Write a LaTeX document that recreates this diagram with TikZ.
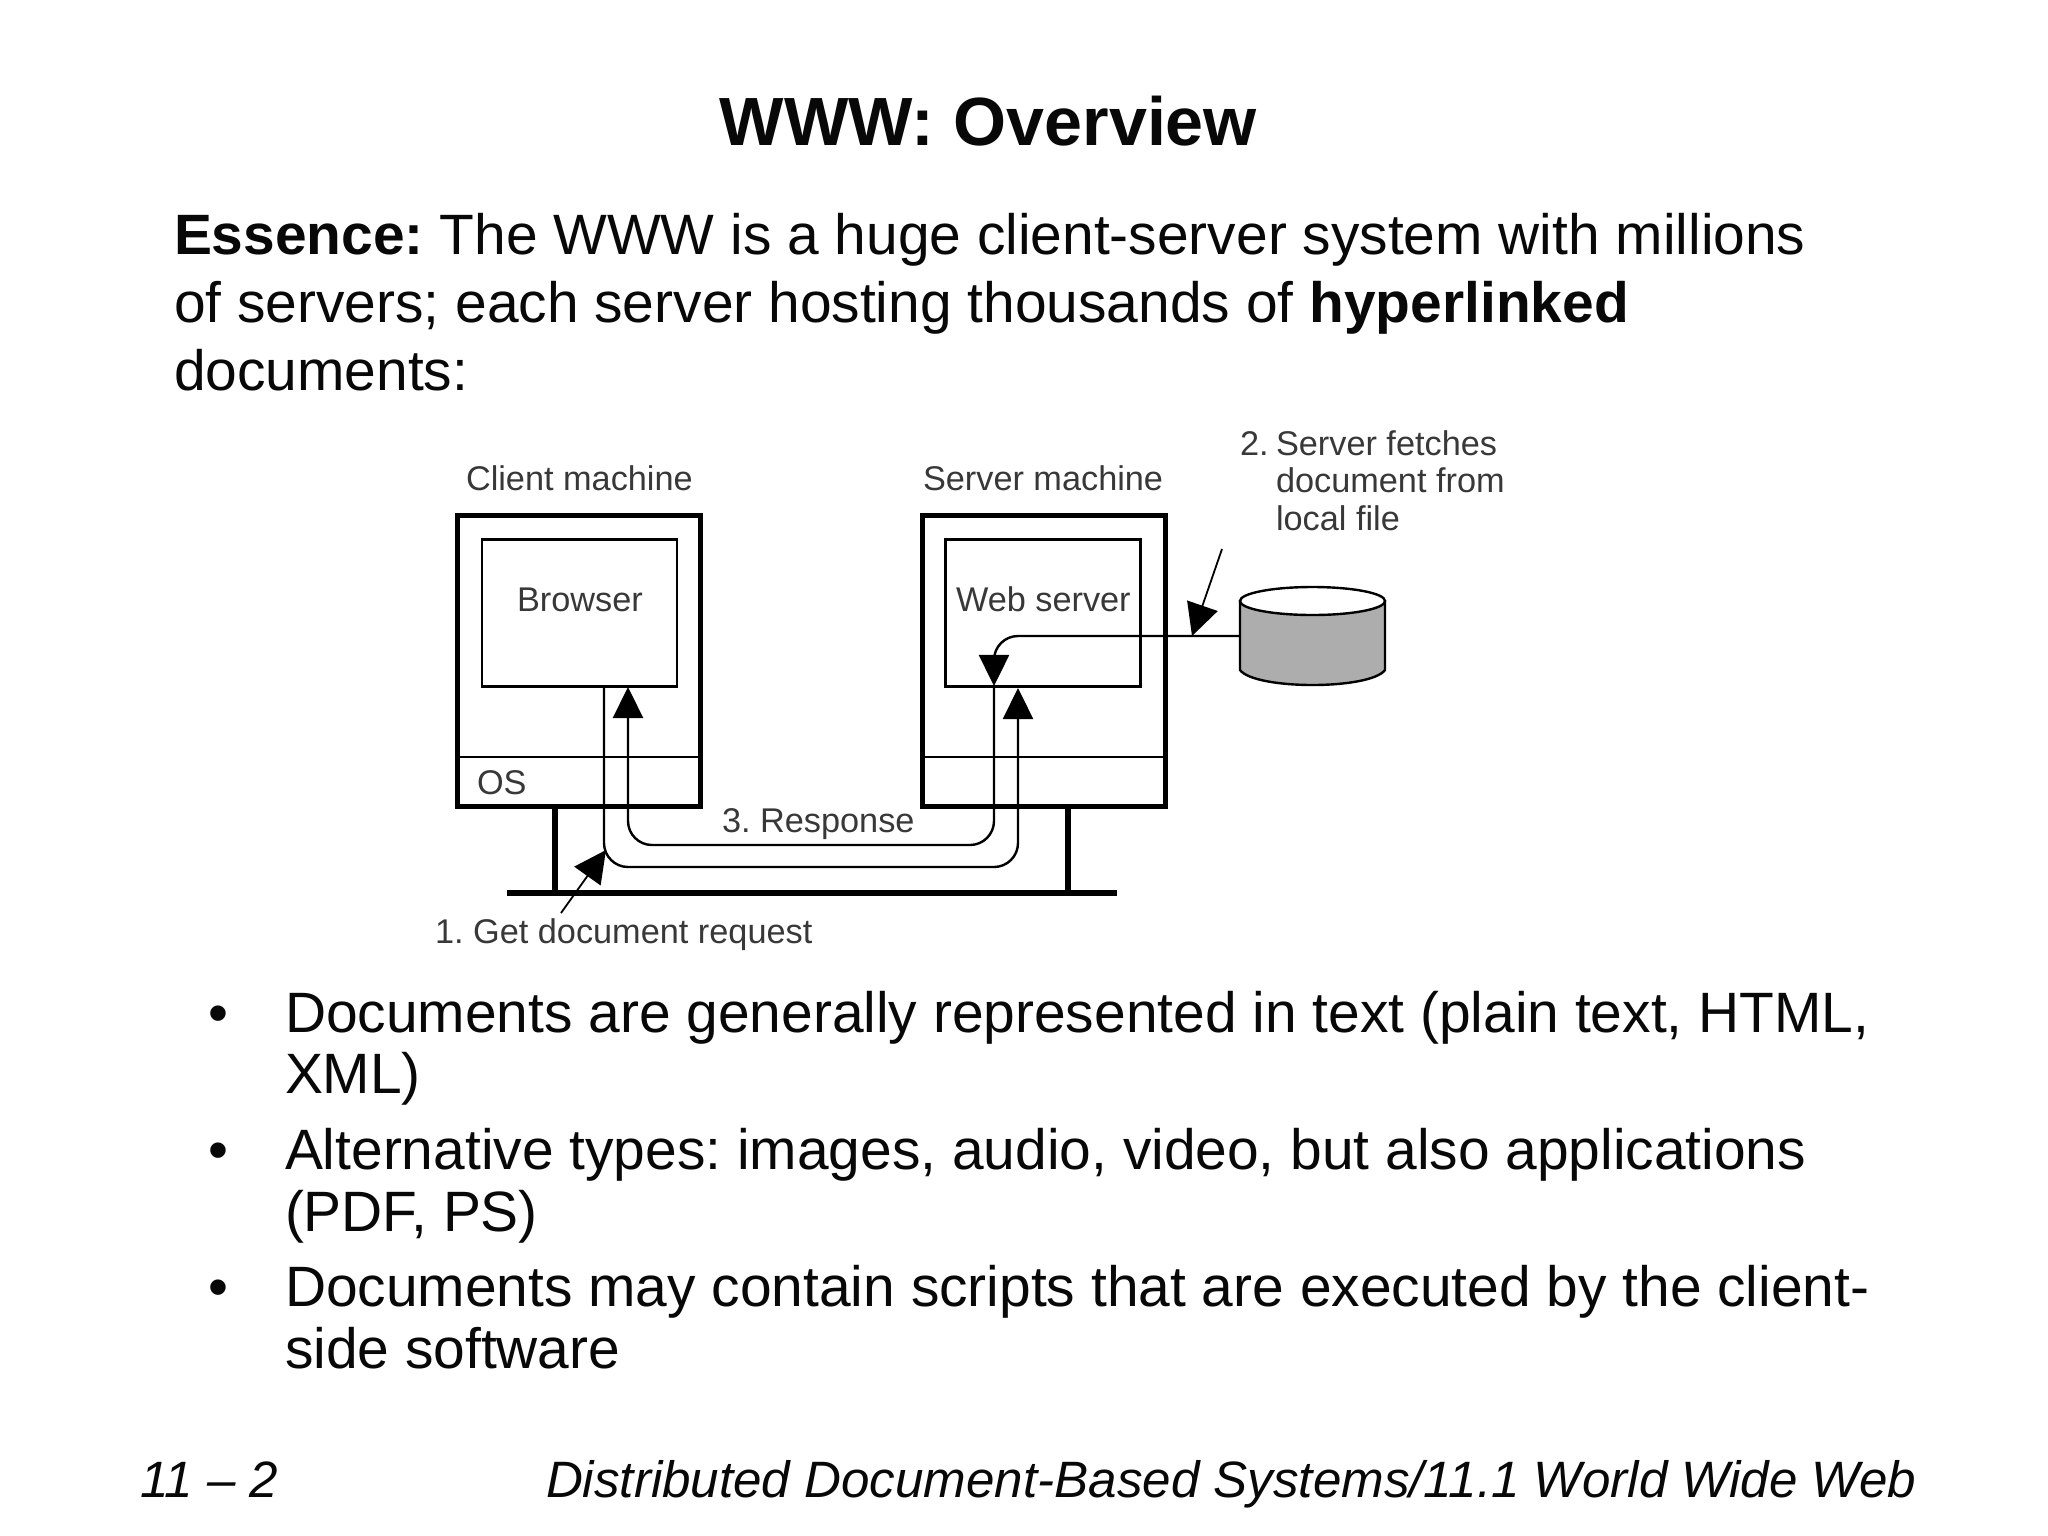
\documentclass[tikz,border=0pt]{standalone}
\usepackage{fontspec}
\setmainfont{Liberation Sans}
\usetikzlibrary{arrows.meta}
\definecolor{ink}{HTML}{080808}
\definecolor{figink}{HTML}{383838}
\definecolor{diskgray}{HTML}{ADADAD}
\tikzset{
  body/.style={anchor=base west,inner sep=0pt,outer sep=0pt,text=ink,font=\fontsize{16.18pt}{16.18pt}\selectfont},
  heading/.style={anchor=base,inner sep=0pt,outer sep=0pt,text=ink,font=\bfseries\fontsize{19.4pt}{19.4pt}\selectfont},
  foot/.style={anchor=base west,inner sep=0pt,outer sep=0pt,text=ink,font=\itshape\fontsize{14.54pt}{14.54pt}\selectfont},
  fig/.style={anchor=base west,inner sep=0pt,outer sep=0pt,text=figink,font=\fontsize{9.75pt}{9.75pt}\selectfont},
  machine/.style={draw=black,line width=0.05cm,fill=white,minimum width=2.42cm,minimum height=2.9cm,inner sep=0pt,outer sep=0pt},
  app/.style={draw=black,line width=0.028cm,minimum width=1.95cm,minimum height=1.47cm,inner sep=0pt,outer sep=0pt},
  wire/.style={draw=black,line width=0.024cm,rounded corners=0.24cm},
  tip/.style={-{Triangle[length=0.31cm,width=0.3cm]}},
  pointer/.style={draw=black,line width=0.018cm,-{Triangle[length=0.32cm,width=0.32cm]}},
  thick line/.style={draw=black,line width=0.06cm},
}
\begin{document}
\frenchspacing
\begin{tikzpicture}[x=0.01cm,y=-0.01cm]
\useasboundingbox (0,0) rectangle (2048,1536);
\fill[white] (0,0) rectangle (2048,1536);
% slide text
\node[heading] (title) at (988.5,145) {WWW: Overview};
\node[body] (l1) at (174,254) {\textbf{Essence:} The WWW is a huge client-server system with millions};
\node[body] (l2) at (174,322) {of servers; each server hosting thousands of \textbf{hyperlinked}};
\node[body] (l3) at (174,390) {documents:};
\node[body] (b1) at (208,1032) {•};
\node[body] (t1) at (285,1032) {Documents are generally represented in text (plain text, HTML,};
\node[body] (t1b) at (285,1093) {XML)};
\node[body] (b2) at (208,1169) {•};
\node[body] (t2) at (285,1169) {Alternative types: images, audio, video, but also applications};
\node[body] (t2b) at (285,1231) {(PDF, PS)};
\node[body] (b3) at (208,1306) {•};
\node[body] (t3) at (285,1306) {Documents may contain scripts that are executed by the client-};
\node[body] (t3b) at (285,1368) {side software};
\node[foot] (f1) at (140,1497) {11 – 2};
\node[foot] (f2) at (546,1497) {Distributed Document-Based Systems/11.1 World Wide Web};
% network
\coordinate (busL) at (507,893);
\coordinate (busR) at (1117,893);
\coordinate (stubC) at (555,893);
\coordinate (stubS) at (1068,893);
\draw[thick line] (busL) -- (busR);
% machines
\node[machine] (client) at (579,661) {};
\node[machine] (server) at (1044,661) {};
\draw[thick line] (client.south -| stubC) -- (stubC);
\draw[thick line] (server.south -| stubS) -- (stubS);
\node[app] (browser) at (579.5,613) {};
\node[app] (web) at (1043,613) {};
\coordinate (osCL) at (459,757); \coordinate (osCR) at (699,757);
\coordinate (osSL) at (924,757); \coordinate (osSR) at (1163,757);
\draw[line width=0.024cm] (osCL) -- (osCR);
\draw[line width=0.024cm] (osSL) -- (osSR);
% disk
\coordinate (dL) at (1240,601);
\coordinate (dR) at (1385,601);
\coordinate (dBL) at (1240,670);
\coordinate (dBR) at (1385,670);
\draw[line width=0.024cm,fill=diskgray] (dL) -- (dBL) .. controls (1255,690) and (1370,690) .. (dBR) -- (dR) -- cycle;
\draw[line width=0.024cm,fill=white] (1312.5,601) ellipse[x radius=72.5,y radius=14];
% wires
\coordinate (browserOut) at (604,686);
\coordinate (browserIn) at (628,687);
\coordinate (webOut) at (994,686);
\coordinate (webIn) at (1018,688);
\coordinate (diskPort) at (1240,636);
\draw[wire,tip] (browserOut) -- (604,867) -- (1018,867) -- (webIn);
\draw[wire,tip] (webOut) -- (994,845) -- (628,845) -- (browserIn);
\draw[wire,tip] (diskPort) -- (994,636) -- (webOut);
% annotations
\coordinate (a1s) at (561,913); \coordinate (a1e) at (606,850);
\coordinate (a2s) at (1222,549); \coordinate (a2e) at (1192,636);
\draw[pointer] (a1s) -- (a1e);
\draw[pointer] (a2s) -- (a2e);
% labels
\node[fig] (lc) at (466,490) {Client machine};
\node[fig] (ls) at (923,490) {Server machine};
\node[fig] (lb) at (517,611) {Browser};
\node[fig] (lw) at (956,611) {Web server};
\node[fig] (los) at (477,794) {OS};
\node[fig] (lr) at (722,832) {3. Response};
\node[fig] (lg) at (435,943) {1. Get document request};
\node[fig] (n2) at (1240,455) {2.};
\node[fig] (n2a) at (1276,455) {Server fetches};
\node[fig] (n2b) at (1276,492) {document from};
\node[fig] (n2c) at (1276,530) {local file};
\end{tikzpicture}
\end{document}
